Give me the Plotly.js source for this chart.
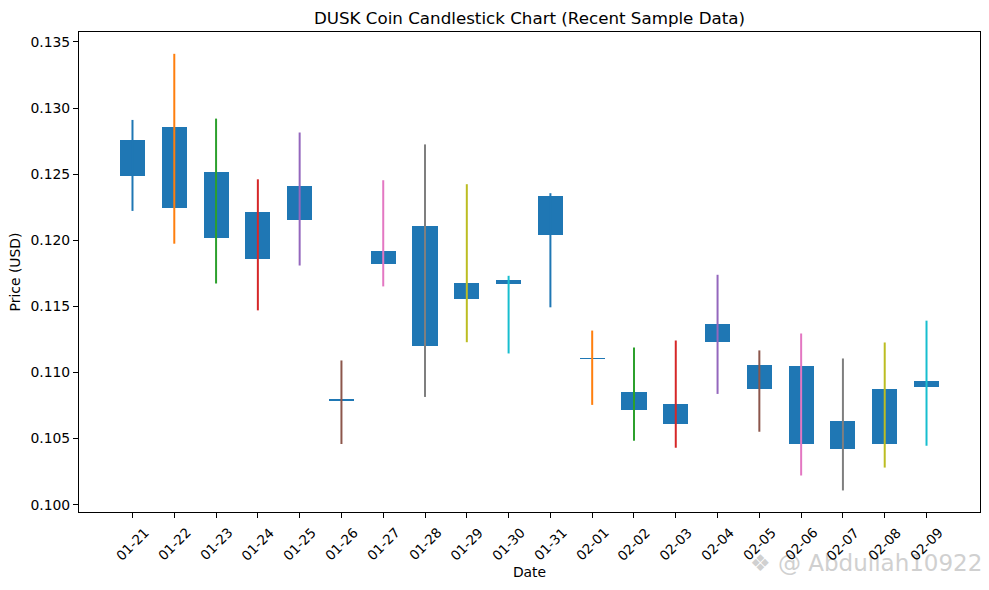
<!DOCTYPE html>
<html>
<head>
<meta charset="utf-8">
<script src="https://cdn.plot.ly/plotly-3.0.1.min.js"></script>
<style>html,body{margin:0;padding:0;background:#fff;}#chart{width:989px;height:590px;}</style>
</head>
<body>
<div id="chart"></div>
<script>
const dates = ["01-21","01-22","01-23","01-24","01-25","01-26","01-27","01-28","01-29","01-30","01-31","02-01","02-02","02-03","02-04","02-05","02-06","02-07","02-08","02-09"];
const openP  = [0.12486,0.12853,0.12514,0.12213,0.12153,0.10800,0.11919,0.12107,0.11678,0.11671,0.12040,0.11107,0.10851,0.10760,0.11229,0.11054,0.11046,0.10632,0.10462,0.10890];
const closeP = [0.12755,0.12245,0.12020,0.11861,0.12408,0.10787,0.11821,0.11199,0.11558,0.11701,0.12333,0.11100,0.10717,0.10612,0.11370,0.10875,0.10462,0.10424,0.10873,0.10933];
const highP  = [0.12910,0.13410,0.12920,0.12461,0.12815,0.11091,0.12454,0.12725,0.12424,0.11731,0.12356,0.11317,0.11189,0.11242,0.11739,0.11167,0.11295,0.11106,0.11227,0.11392];
const lowP   = [0.12222,0.11974,0.11673,0.11470,0.11809,0.10459,0.11651,0.10815,0.11229,0.11144,0.11493,0.10755,0.10484,0.10431,0.10838,0.10552,0.10221,0.10108,0.10281,0.10446];
const cycle = ["#1f77b4","#ff7f0e","#2ca02c","#d62728","#9467bd","#8c564b","#e377c2","#7f7f7f","#bcbd22","#17becf"];

const idx = dates.map((d,i)=>i);
const font = "DejaVu Sans, sans-serif";
const traces = [];
traces.push({
  type:"bar", x: idx, y: closeP.map((c,i)=>c-openP[i]), base: openP, width: 0.6,
  marker:{color:"#1f77b4", line:{width:0}}, showlegend:false, hoverinfo:"skip"
});
idx.forEach(i=>{
  traces.push({type:"scatter", mode:"lines", x:[i,i], y:[lowP[i],highP[i]],
    line:{color:cycle[i%cycle.length], width:2}, showlegend:false, hoverinfo:"skip"});
});

const annotations = [{x:1, xref:"paper", y:0, yref:"paper", xanchor:"right", yanchor:"middle", xshift:4, yshift:-51,
  text:"❖ @ Abdullah10922", showarrow:false, font:{family:font, size:23, color:"#d0d0d0"}}];
dates.forEach((d,i)=>annotations.push({
  x:i, xref:"x", y:0, yref:"paper", text:d, textangle:-45, showarrow:false,
  xanchor:"center", yanchor:"top", yshift:-10, font:{family:font, size:13.5, color:"#000"}
}));

const layout = {
  width:989, height:590,
  margin:{l:79, r:9, t:32, b:78},
  paper_bgcolor:"#fff", plot_bgcolor:"#fff",
  font:{family:font, color:"#000", size:13.9},
  title:{text:"DUSK Coin Candlestick Chart (Recent Sample Data)", font:{family:font, size:16.7, color:"#000"},
    x:0.5, xref:"paper", xanchor:"center", y:1, yref:"paper", yanchor:"bottom", pad:{b:8}},
  xaxis:{range:[-1.28,20.28], tickvals:idx, ticktext:dates.map(()=>""), ticks:"outside", ticklen:5, tickcolor:"#000",
    showgrid:false, zeroline:false, showline:true, linecolor:"#000", linewidth:1, mirror:true,
    title:{text:"Date", font:{family:font, size:13.9}, standoff:47}},
  yaxis:{range:[0.09945,0.13575], tickvals:[0.100,0.105,0.110,0.115,0.120,0.125,0.130,0.135], tickformat:".3f",
    ticks:"outside", ticklen:5, tickcolor:"#000", tickfont:{family:font, size:13.9},
    showgrid:false, zeroline:false, showline:true, linecolor:"#000", linewidth:1, mirror:true,
    title:{text:"Price (USD)", font:{family:font, size:13.9}, standoff:6}},
  annotations: annotations,
  bargap:0
};
Plotly.newPlot("chart", traces, layout, {displayModeBar:false, staticPlot:true});
</script>
</body>
</html>
